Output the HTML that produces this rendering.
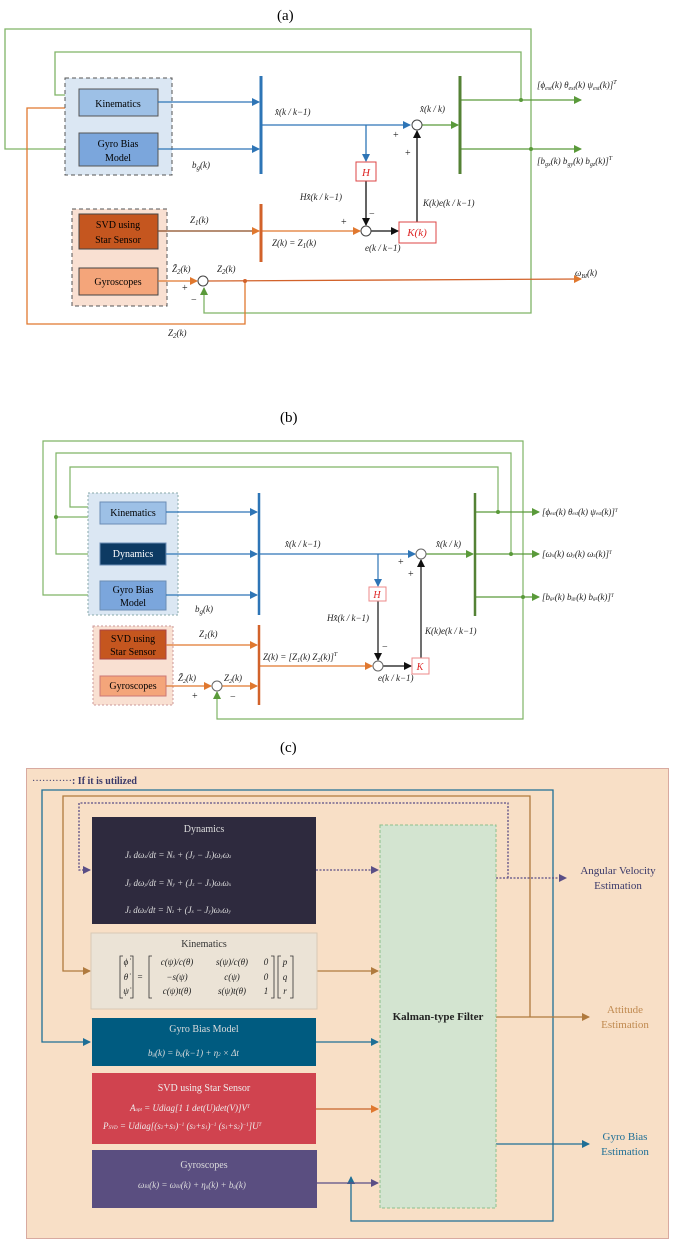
<!DOCTYPE html>
<html><head><meta charset="utf-8"><style>
html,body{margin:0;padding:0;background:#fff}
svg{display:block}
text{font-family:"Liberation Serif",serif}
.m{font-style:italic;font-size:9px}
.bx{font-size:10px;text-anchor:middle}
</style></head><body>
<svg width="685" height="1241" viewBox="0 0 685 1241" xmlns="http://www.w3.org/2000/svg">
<defs>
<marker id="ab" markerWidth="8" markerHeight="8" refX="7" refY="4" orient="auto" markerUnits="userSpaceOnUse"><path d="M0,0L8,4L0,8z" fill="#2e75b6"/></marker>
<marker id="ag" markerWidth="8" markerHeight="8" refX="7" refY="4" orient="auto" markerUnits="userSpaceOnUse"><path d="M0,0L8,4L0,8z" fill="#5a9a3a"/></marker>
<marker id="ao" markerWidth="8" markerHeight="8" refX="7" refY="4" orient="auto" markerUnits="userSpaceOnUse"><path d="M0,0L8,4L0,8z" fill="#e0782f"/></marker>
<marker id="ak" markerWidth="8" markerHeight="8" refX="7" refY="4" orient="auto" markerUnits="userSpaceOnUse"><path d="M0,0L8,4L0,8z" fill="#111"/></marker>
<marker id="ac" markerWidth="8" markerHeight="8" refX="7" refY="4" orient="auto" markerUnits="userSpaceOnUse"><path d="M0,0L8,4L0,8z" fill="#b07a3e"/></marker>
<marker id="at" markerWidth="8" markerHeight="8" refX="7" refY="4" orient="auto" markerUnits="userSpaceOnUse"><path d="M0,0L8,4L0,8z" fill="#1f6f96"/></marker>
<marker id="ap" markerWidth="8" markerHeight="8" refX="7" refY="4" orient="auto" markerUnits="userSpaceOnUse"><path d="M0,0L8,4L0,8z" fill="#5a4e86"/></marker>
</defs>

<!-- ===== (a) ===== -->
<text x="277" y="20" font-size="15">(a)</text>
<g fill="none" stroke-width="1.3">
<path d="M531,149V29H5V149H78" stroke="#7fb466" marker-end="url(#ag)"/>
<path d="M521,100V52H55V95H78" stroke="#7fb466" marker-end="url(#ag)"/>
<path d="M531,149V313H204V288" stroke="#7fb466" marker-end="url(#ag)"/>
<path d="M245,281V324H27V108H78" stroke="#e0782f" marker-end="url(#ao)"/>
</g>
<rect x="65" y="78" width="107" height="97" fill="#dbe7f3" stroke="#555" stroke-dasharray="4,3"/>
<rect x="79" y="89" width="79" height="27" fill="#9dc0e6" stroke="#555"/>
<text x="118" y="107" class="bx" font-size="11">Kinematics</text>
<rect x="79" y="133" width="79" height="33" fill="#7ba6dc" stroke="#555"/>
<text x="118" y="147" class="bx" font-size="11">Gyro Bias</text><text x="118" y="161" class="bx" font-size="11">Model</text>
<rect x="72" y="209" width="95" height="97" fill="#f9e0d2" stroke="#555" stroke-dasharray="4,3"/>
<rect x="79" y="214" width="79" height="35" fill="#c5561f" stroke="#444"/>
<text x="118" y="228" class="bx" font-size="11">SVD using</text><text x="118" y="243" class="bx" font-size="11">Star Sensor</text>
<rect x="79" y="268" width="79" height="27" fill="#f4a57a" stroke="#444"/>
<text x="118" y="285" class="bx" font-size="11">Gyroscopes</text>
<g fill="none" stroke-width="1.3">
<path d="M158,102H259" stroke="#2e75b6" marker-end="url(#ab)"/>
<path d="M158,149H259" stroke="#2e75b6" marker-end="url(#ab)"/>
<path d="M261,125H410" stroke="#2e75b6" marker-end="url(#ab)"/>
<path d="M366,125V161" stroke="#2e75b6" marker-end="url(#ab)"/>
<path d="M422,125H458" stroke="#5a9a3a" marker-end="url(#ag)"/>
<path d="M460,100H581" stroke="#5a9a3a" marker-end="url(#ag)"/>
<path d="M460,149H581" stroke="#5a9a3a" marker-end="url(#ag)"/>
<path d="M366,181V225" stroke="#111" marker-end="url(#ak)"/>
<path d="M371,231H398" stroke="#111" marker-end="url(#ak)"/>
<path d="M417,222V131" stroke="#111" marker-end="url(#ak)"/>
<path d="M158,231H259" stroke="#8b4a22" marker-end="url(#ao)"/>
<path d="M261,231H360" stroke="#e0782f" marker-end="url(#ao)"/>
<path d="M158,281H197" stroke="#e0782f" marker-end="url(#ao)"/>
<path d="M208,281L581,279" stroke="#d2622a" marker-end="url(#ao)"/>
</g>
<line x1="261" y1="76" x2="261" y2="174" stroke="#2e75b6" stroke-width="3"/>
<line x1="460" y1="76" x2="460" y2="174" stroke="#548235" stroke-width="3"/>
<line x1="261" y1="204" x2="261" y2="262" stroke="#d2622a" stroke-width="3"/>
<g fill="#fff" stroke="#444"><circle cx="417" cy="125" r="5"/><circle cx="366" cy="231" r="5"/><circle cx="203" cy="281" r="5"/></g>
<circle cx="521" cy="100" r="2" fill="#5a9a3a"/><circle cx="531" cy="149" r="2" fill="#5a9a3a"/><circle cx="245" cy="281" r="2" fill="#d2622a"/>
<rect x="356" y="162" width="20" height="19" fill="#fff" stroke="#d44"/><text x="366" y="176" font-size="11" fill="#d22" font-style="italic" text-anchor="middle">H</text>
<rect x="399" y="222" width="37" height="21" fill="#fff" stroke="#d44"/><text x="417" y="236" font-size="11" fill="#d22" font-style="italic" text-anchor="middle">K(k)</text>
<g fill="#222">
<text class="m" x="275" y="115" font-size="10">x̂(k / k−1)</text>
<text class="m" x="420" y="112" font-size="10">x̂(k / k)</text>
<text class="m" x="192" y="168" font-size="11">b<tspan font-size="7" dy="2">g</tspan><tspan dy="-2">(k)</tspan></text>
<text class="m" x="300" y="200">Hx̂(k / k−1)</text>
<text class="m" x="423" y="206">K(k)e(k / k−1)</text>
<text class="m" x="365" y="251">e(k / k−1)</text>
<text class="m" x="272" y="246" font-size="10">Z(k) = Z<tspan font-size="7" dy="2">1</tspan><tspan dy="-2">(k)</tspan></text>
<text class="m" x="190" y="223" font-size="10">Z<tspan font-size="7" dy="2">1</tspan><tspan dy="-2">(k)</tspan></text>
<text class="m" x="172" y="272">Z̃<tspan font-size="7" dy="2">2</tspan><tspan dy="-2">(k)</tspan></text>
<text class="m" x="217" y="272">Z<tspan font-size="7" dy="2">2</tspan><tspan dy="-2">(k)</tspan></text>
<text class="m" x="168" y="336">Z<tspan font-size="7" dy="2">2</tspan><tspan dy="-2">(k)</tspan></text>
<text class="m" x="575" y="276">ω<tspan font-size="6" dy="2">BI</tspan><tspan dy="-2">(k)</tspan></text>
<text class="m" x="537" y="88" font-size="11">[ϕ<tspan font-size="6" dy="2">est</tspan><tspan dy="-2">(k)  θ</tspan><tspan font-size="6" dy="2">est</tspan><tspan dy="-2">(k)  ψ</tspan><tspan font-size="6" dy="2">est</tspan><tspan dy="-2">(k)]</tspan><tspan font-size="6" dy="-4">T</tspan></text>
<text class="m" x="537" y="164" font-size="11">[b<tspan font-size="6" dy="2">gx</tspan><tspan dy="-2">(k)  b</tspan><tspan font-size="6" dy="2">gy</tspan><tspan dy="-2">(k)  b</tspan><tspan font-size="6" dy="2">gz</tspan><tspan dy="-2">(k)]</tspan><tspan font-size="6" dy="-4">T</tspan></text>
</g>
<g font-size="10" fill="#222"><text x="393" y="138">+</text><text x="405" y="156">+</text><text x="369" y="217">−</text><text x="341" y="225">+</text><text x="182" y="291">+</text><text x="191" y="303">−</text></g>

<!-- ===== (b) ===== -->
<text x="280" y="422" font-size="15">(b)</text>
<g fill="none" stroke-width="1.2" stroke="#7fb466">
<path d="M523,597V441H43V595H98" marker-end="url(#ag)"/>
<path d="M511,554V453H56V554H98" marker-end="url(#ag)"/>
<path d="M56,517H98" marker-end="url(#ag)"/>
<path d="M498,512V467H70V507H98" marker-end="url(#ag)"/>
<path d="M523,597V719H217V692" marker-end="url(#ag)"/>
</g>
<rect x="88" y="493" width="90" height="122" fill="#dbe7f3" stroke="#8aa" stroke-dasharray="2,2"/>
<rect x="100" y="502" width="66" height="22" fill="#9dc0e6" stroke="#6b8db5"/><text x="133" y="516" class="bx">Kinematics</text>
<rect x="100" y="543" width="66" height="22" fill="#0d3a63" stroke="#6b8db5"/><text x="133" y="557" class="bx" fill="#fff">Dynamics</text>
<rect x="100" y="581" width="66" height="29" fill="#7ba6dc" stroke="#6b8db5"/><text x="133" y="593" class="bx">Gyro Bias</text><text x="133" y="606" class="bx">Model</text>
<rect x="93" y="626" width="80" height="79" fill="#f9e0d2" stroke="#c99" stroke-dasharray="2,2"/>
<rect x="100" y="630" width="66" height="29" fill="#c5561f" stroke="#a44"/><text x="133" y="642" class="bx">SVD using</text><text x="133" y="655" class="bx">Star Sensor</text>
<rect x="100" y="676" width="66" height="20" fill="#f4a57a" stroke="#c77"/><text x="133" y="689" class="bx">Gyroscopes</text>
<g fill="none" stroke-width="1.2">
<path d="M166,512H257" stroke="#2e75b6" marker-end="url(#ab)"/>
<path d="M166,554H257" stroke="#2e75b6" marker-end="url(#ab)"/>
<path d="M166,595H257" stroke="#2e75b6" marker-end="url(#ab)"/>
<path d="M259,554H415" stroke="#2e75b6" marker-end="url(#ab)"/>
<path d="M378,554V586" stroke="#2e75b6" marker-end="url(#ab)"/>
<path d="M426,554H473" stroke="#5a9a3a" marker-end="url(#ag)"/>
<path d="M475,512H539" stroke="#5a9a3a" marker-end="url(#ag)"/>
<path d="M475,554H539" stroke="#5a9a3a" marker-end="url(#ag)"/>
<path d="M475,597H539" stroke="#5a9a3a" marker-end="url(#ag)"/>
<path d="M378,600V660" stroke="#111" marker-end="url(#ak)"/>
<path d="M383,666H411" stroke="#111" marker-end="url(#ak)"/>
<path d="M421,658V560" stroke="#111" marker-end="url(#ak)"/>
<path d="M166,645H257" stroke="#e0782f" marker-end="url(#ao)"/>
<path d="M259,666H372" stroke="#e0782f" marker-end="url(#ao)"/>
<path d="M166,686H211" stroke="#e0782f" marker-end="url(#ao)"/>
<path d="M222,686H257" stroke="#e0782f" marker-end="url(#ao)"/>
</g>
<line x1="259" y1="493" x2="259" y2="615" stroke="#2e75b6" stroke-width="2.5"/>
<line x1="475" y1="493" x2="475" y2="616" stroke="#548235" stroke-width="2.5"/>
<line x1="259" y1="625" x2="259" y2="705" stroke="#d2622a" stroke-width="2.5"/>
<g fill="#fff" stroke="#666"><circle cx="421" cy="554" r="5"/><circle cx="378" cy="666" r="5"/><circle cx="217" cy="686" r="5"/></g>
<g fill="#5a9a3a"><circle cx="56" cy="517" r="2"/><circle cx="498" cy="512" r="2"/><circle cx="511" cy="554" r="2"/><circle cx="523" cy="597" r="2"/></g>
<rect x="369" y="587" width="17" height="14" fill="#fff" stroke="#e88"/><text x="377" y="598" font-size="10" fill="#d22" font-style="italic" text-anchor="middle">H</text>
<rect x="412" y="658" width="17" height="16" fill="#fff" stroke="#e88"/><text x="420" y="670" font-size="10" fill="#d22" font-style="italic" text-anchor="middle">K</text>
<g fill="#222">
<text class="m" x="285" y="547">x̂(k / k−1)</text>
<text class="m" x="436" y="547">x̂(k / k)</text>
<text class="m" x="195" y="612" font-size="11">b<tspan font-size="7" dy="2">g</tspan><tspan dy="-2">(k)</tspan></text>
<text class="m" x="327" y="621" font-size="8">Hx̂(k / k−1)</text>
<text class="m" x="425" y="634" font-size="8">K(k)e(k / k−1)</text>
<text class="m" x="378" y="681" font-size="8">e(k / k−1)</text>
<text class="m" x="199" y="637">Z<tspan font-size="7" dy="2">1</tspan><tspan dy="-2">(k)</tspan></text>
<text class="m" x="263" y="660">Z(k) = [Z<tspan font-size="6" dy="2">1</tspan><tspan dy="-2">(k)   Z</tspan><tspan font-size="6" dy="2">2</tspan><tspan dy="-2">(k)]</tspan><tspan font-size="6" dy="-4">T</tspan></text>
<text class="m" x="178" y="681">Z̃<tspan font-size="6" dy="2">2</tspan><tspan dy="-2">(k)</tspan></text>
<text class="m" x="224" y="681">Z<tspan font-size="6" dy="2">2</tspan><tspan dy="-2">(k)</tspan></text>
<g class="m" font-size="7"><text x="542" y="515">[ϕ<tspan font-size="5">est</tspan>(k)   θ<tspan font-size="5">est</tspan>(k)   ψ<tspan font-size="5">est</tspan>(k)]<tspan font-size="5" dy="-3">T</tspan></text>
<text x="542" y="557">[ω<tspan font-size="5">x</tspan>(k)   ω<tspan font-size="5">y</tspan>(k)   ω<tspan font-size="5">z</tspan>(k)]<tspan font-size="5" dy="-3">T</tspan></text>
<text x="542" y="600">[b<tspan font-size="5">gx</tspan>(k)   b<tspan font-size="5">gy</tspan>(k)   b<tspan font-size="5">gz</tspan>(k)]<tspan font-size="5" dy="-3">T</tspan></text></g>
</g>
<g font-size="10" fill="#222"><text x="398" y="565">+</text><text x="408" y="577">+</text><text x="382" y="650">−</text><text x="192" y="699">+</text><text x="230" y="700">−</text></g>

<!-- ===== (c) ===== -->
<text x="280" y="752" font-size="15">(c)</text>
<rect x="26.5" y="768.5" width="642" height="470" fill="#f8dfc6" stroke="#d8aaa0"/>
<text x="32" y="784" font-size="10" font-weight="bold" fill="#3b3a6a"><tspan font-weight="normal">············</tspan>: If it is utilized</text>
<g fill="none" stroke-width="1.3">
<path d="M553,1144V790H42V1042H90" stroke="#1f6f96" marker-end="url(#at)"/>
<path d="M553,1144V1221H351V1177" stroke="#1f6f96" marker-end="url(#at)"/>
<path d="M530,1017V796H63V971H90" stroke="#b07a3e" marker-end="url(#ac)"/>
<path d="M508,878V803H79V870H90" stroke="#5a4e86" stroke-dasharray="2,1.5" marker-end="url(#ap)"/>
<path d="M316,870H378" stroke="#5a4e86" stroke-dasharray="2,1.5" marker-end="url(#ap)"/>
<path d="M317,971H378" stroke="#b07a3e" marker-end="url(#ac)"/>
<path d="M316,1042H378" stroke="#1f6f96" marker-end="url(#at)"/>
<path d="M316,1109H378" stroke="#c8652a" marker-end="url(#ao)"/>
<path d="M317,1183H378" stroke="#5a4e86" marker-end="url(#ap)"/>
<path d="M496,878H566" stroke="#5a4e86" stroke-dasharray="2,1.5" marker-end="url(#ap)"/>
<path d="M496,1017H589" stroke="#b07a3e" marker-end="url(#ac)"/>
<path d="M496,1144H589" stroke="#1f6f96" marker-end="url(#at)"/>
</g>
<rect x="92" y="817" width="224" height="107" fill="#2e2a3e"/>
<text x="204" y="832" class="bx" fill="#ddd" font-size="11">Dynamics</text>
<g class="m" fill="#ddd" font-size="9"><text x="125" y="858">J<tspan font-size="5">x</tspan> dω<tspan font-size="5">x</tspan>/dt = N<tspan font-size="5">x</tspan> + (J<tspan font-size="5">y</tspan> − J<tspan font-size="5">z</tspan>)ω<tspan font-size="5">y</tspan>ω<tspan font-size="5">z</tspan></text>
<text x="125" y="886">J<tspan font-size="5">y</tspan> dω<tspan font-size="5">y</tspan>/dt = N<tspan font-size="5">y</tspan> + (J<tspan font-size="5">z</tspan> − J<tspan font-size="5">x</tspan>)ω<tspan font-size="5">z</tspan>ω<tspan font-size="5">x</tspan></text>
<text x="125" y="913">J<tspan font-size="5">z</tspan> dω<tspan font-size="5">z</tspan>/dt = N<tspan font-size="5">z</tspan> + (J<tspan font-size="5">x</tspan> − J<tspan font-size="5">y</tspan>)ω<tspan font-size="5">x</tspan>ω<tspan font-size="5">y</tspan></text></g>
<rect x="91" y="933" width="226" height="76" fill="#ebe3d6" stroke="#d8c9b5"/>
<text x="204" y="947" class="bx" fill="#333" font-size="11">Kinematics</text>
<g class="m" font-size="8.5" fill="#222" text-anchor="middle"><text x="126" y="965">ϕ̇</text><text x="126" y="980">θ̇</text><text x="126" y="994">ψ̇</text><text x="140" y="980" font-style="normal">=</text>
<text x="177" y="965">c(ψ)/c(θ)</text><text x="232" y="965">s(ψ)/c(θ)</text><text x="266" y="965">0</text>
<text x="177" y="980">−s(ψ)</text><text x="232" y="980">c(ψ)</text><text x="266" y="980">0</text>
<text x="177" y="994">c(ψ)t(θ)</text><text x="232" y="994">s(ψ)t(θ)</text><text x="266" y="994">1</text>
<text x="285" y="965">p</text><text x="285" y="980">q</text><text x="285" y="994">r</text></g>
<g fill="none" stroke="#333" stroke-width="0.8"><path d="M123,956h-3v42h3M130,956h3v42h-3M152,956h-3v42h3M271,956h3v42h-3M281,956h-3v42h3M290,956h3v42h-3"/></g>
<rect x="92" y="1018" width="224" height="48" fill="#005b80"/>
<text x="204" y="1032" class="bx" fill="#ddd" font-size="11">Gyro Bias Model</text>
<text class="m" x="148" y="1056" fill="#ddd" font-size="9">b<tspan font-size="5">g</tspan>(k) = b<tspan font-size="5">g</tspan>(k−1) + η<tspan font-size="5">2</tspan> × Δt</text>
<rect x="92" y="1073" width="224" height="71" fill="#d0434f"/>
<text x="204" y="1091" class="bx" fill="#eee" font-size="11">SVD using Star Sensor</text>
<text class="m" x="130" y="1111" fill="#eee" font-size="8.5">A<tspan font-size="5">opt</tspan> = Udiag[1   1   det(U)det(V)]V<tspan font-size="5" dy="-3">T</tspan></text>
<text class="m" x="103" y="1129" fill="#eee" font-size="8.5">P<tspan font-size="5">SVD</tspan> = Udiag[(s<tspan font-size="5">2</tspan>+s<tspan font-size="5">3</tspan>)<tspan font-size="5" dy="-3">−1</tspan><tspan dy="3">   (s</tspan><tspan font-size="5">3</tspan>+s<tspan font-size="5">1</tspan>)<tspan font-size="5" dy="-3">−1</tspan><tspan dy="3">   (s</tspan><tspan font-size="5">1</tspan>+s<tspan font-size="5">2</tspan>)<tspan font-size="5" dy="-3">−1</tspan><tspan dy="3">]U</tspan><tspan font-size="5" dy="-3">T</tspan></text>
<rect x="92" y="1150" width="225" height="58" fill="#5a4e80"/>
<text x="204" y="1168" class="bx" fill="#ddd" font-size="11">Gyroscopes</text>
<text class="m" x="138" y="1188" fill="#ddd" font-size="9">ω<tspan font-size="5">BI</tspan>(k) = ω<tspan font-size="5">BI</tspan>(k) + η<tspan font-size="5">g</tspan>(k) + b<tspan font-size="5">g</tspan>(k)</text>
<rect x="380" y="825" width="116" height="383" fill="#d3e4d0" stroke="#8cbf8c" stroke-dasharray="3,2"/>
<text x="438" y="1020" font-size="11" font-weight="bold" text-anchor="middle" fill="#222">Kalman-type Filter</text>
<g font-size="11" text-anchor="middle"><text x="618" y="874" fill="#3b3a6a">Angular Velocity</text><text x="618" y="889" fill="#3b3a6a">Estimation</text>
<text x="625" y="1013" fill="#c08a50">Attitude</text><text x="625" y="1028" fill="#c08a50">Estimation</text>
<text x="625" y="1140" fill="#1f6f96">Gyro Bias</text><text x="625" y="1155" fill="#1f6f96">Estimation</text></g>
</svg>
</body></html>
